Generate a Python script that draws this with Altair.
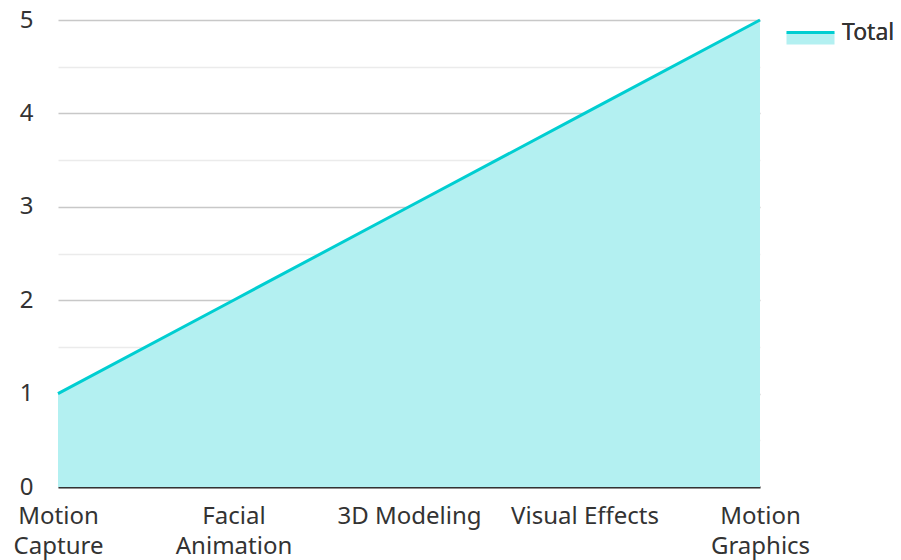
import altair as alt
import pandas as pd

categories = ["Motion Capture", "Facial Animation", "3D Modeling", "Visual Effects", "Motion Graphics"]
values = [1, 2, 3, 4, 5]
series = ["Total"] * 5
wrapped = ["Motion Capture", "Facial Animation", "Motion Graphics"]
y_ticks = [0, 0.5, 1, 1.5, 2, 2.5, 3, 3.5, 4, 4.5, 5]

df = pd.DataFrame({"category": categories, "value": values, "series": series})

LINE = "#00CED1"
FILL = "#B3F0F1"
FONT = "Noto Sans"
TXT = "#333333"
FS = 24

wrap_list = "[" + ",".join("'" + w + "'" for w in wrapped) + "]"

x = alt.X(
    "category:N",
    sort=categories,
    scale=alt.Scale(type="point", padding=0),
    axis=alt.Axis(
        title=None,
        labelAngle=0,
        ticks=False,
        domainColor="#333333",
        domainWidth=2,
        labelPadding=17,
        labelFontSize=FS,
        labelLineHeight=30,
        labelColor=TXT,
        labelFont=FONT,
        labelExpr="indexof(" + wrap_list + ", datum.label) >= 0 ? split(datum.label, ' ') : datum.label",
    ),
)
y = alt.Y(
    "value:Q",
    scale=alt.Scale(domain=[0, 5], nice=False),
    axis=alt.Axis(
        title=None,
        values=y_ticks,
        ticks=False,
        domain=False,
        labelPadding=25,
        labelFontSize=FS,
        labelColor=TXT,
        labelFont=FONT,
        gridColor={"condition": {"test": "datum.value % 1 === 0", "value": "#c8c8c8"}, "value": "#ebebeb"},
        gridWidth=1.5,
        labelExpr="datum.value % 1 === 0 ? format(datum.value, 'd') : ''",
    ),
)

legend_common = dict(
    title=None,
    orient="none",
    legendX=727,
    legendY=-13,
    labelFontSize=23,
    labelFont=FONT,
    labelFontWeight="normal",
    labelColor=TXT,
    labelOffset=6,
    symbolSize=2304,
    symbolType="M-1,0 L1,0 L1,0.5 L-1,0.5 Z",
    symbolStrokeWidth=3,
    symbolDash=[48, 400],
    padding=0,
)

area = alt.Chart(df).mark_area(interpolate="linear").encode(
    x=x,
    y=y,
    fill=alt.Fill("series:N", scale=alt.Scale(range=[FILL]), legend=alt.Legend(**legend_common)),
)
line = alt.Chart(df).mark_line(strokeWidth=3).encode(
    x=x,
    y=y,
    stroke=alt.Stroke("series:N", scale=alt.Scale(range=[LINE]), legend=alt.Legend(**legend_common)),
)

chart = (
    alt.layer(area, line)
    .properties(
        width=702,
        height=467,
        autosize=alt.AutoSizeParams(type="none"),
        padding={"left": 50, "top": 12, "right": 133, "bottom": 73},
    )
    .configure_view(stroke=None)
)

chart.save("out.html", embed_options={"renderer": "svg", "actions": False})
